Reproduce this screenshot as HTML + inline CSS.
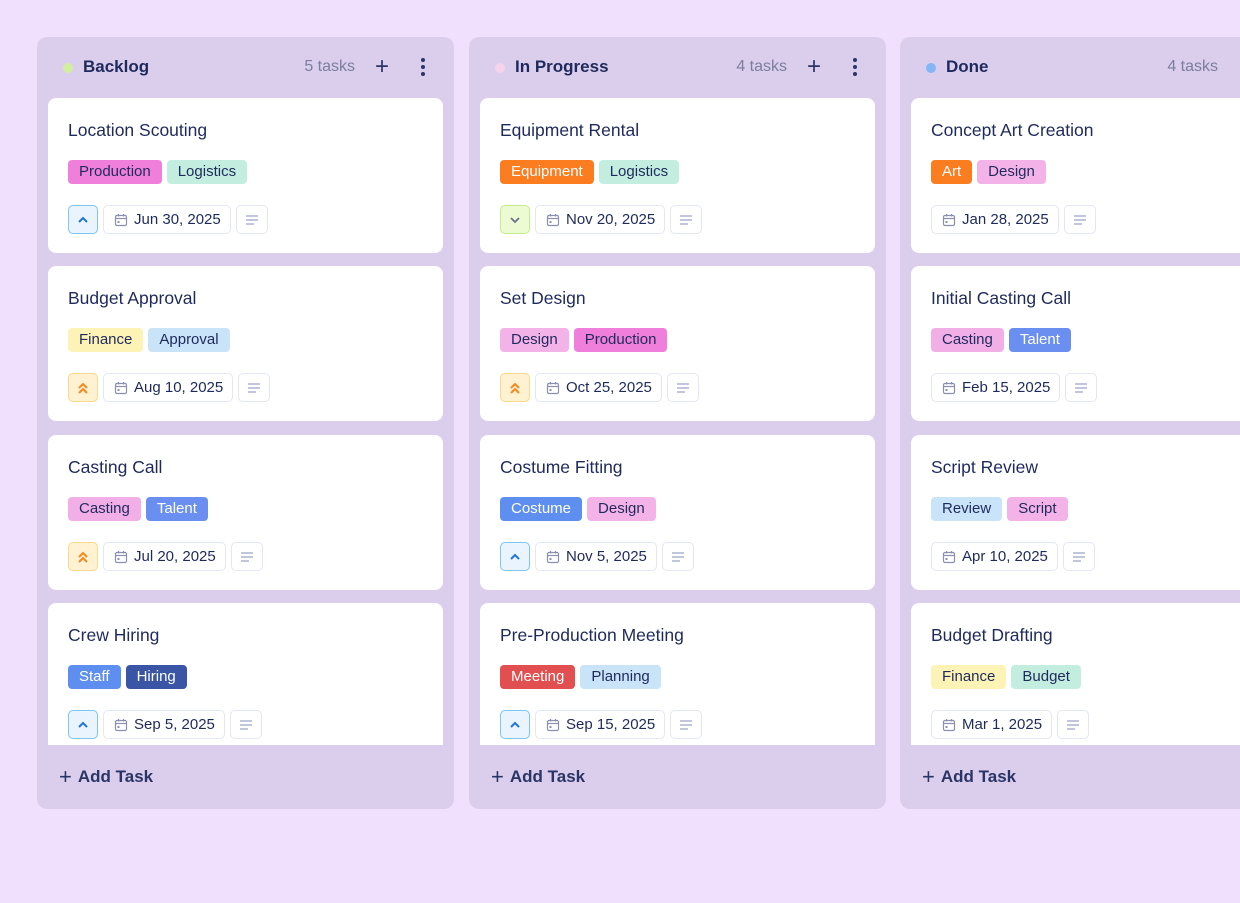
<!DOCTYPE html>
<html><head><meta charset="utf-8">
<style>
*{box-sizing:border-box;margin:0;padding:0}
html,body{width:1240px;height:903px;overflow:hidden;background:#f1e0fd;font-family:"Liberation Sans",sans-serif;color:#1f2a5c}
.col{position:absolute;top:37px;width:417px;height:772px;background:#dbcdec;border-radius:10px;overflow:hidden}
.hd{position:absolute;left:0;top:0;width:100%;height:61px}
.dot{position:absolute;left:26px;top:26px;width:10px;height:10px;border-radius:50%}
.ttl{position:absolute;left:46px;top:20px;font-size:17px;font-weight:bold;color:#1f2a5c}
.cnt{position:absolute;right:99px;top:21px;font-size:16px;color:#7a7f9e}
.plus{position:absolute;left:338px;top:18px;font-size:24px;line-height:24px;color:#2a3566}
.menu{position:absolute;left:384px;top:21px;width:4px}
.menu i{display:block;width:4px;height:4px;border-radius:50%;background:#2a3566;margin-bottom:3px}
.list{position:absolute;left:11px;top:61px;width:395px;height:647px;overflow:hidden}
.card{position:absolute;left:0;width:395px;height:155px;background:#fff;border-radius:8px}
.ct{position:absolute;left:20px;top:22px;font-size:17.5px;color:#1f2a5c}
.tags{position:absolute;left:20px;top:62px;display:flex;gap:5px}
.tag{height:24px;line-height:24px;padding:0 11px;border-radius:4px;font-size:15px}
.row{position:absolute;left:20px;top:107px;display:flex;gap:5px}
.pr{width:30px;height:29px;border-radius:5px;border:1px solid;display:flex;align-items:center;justify-content:center}
.dt{height:29px;border:1px solid #e3e6f3;border-radius:5px;padding:0 9px 0 10px;display:flex;align-items:center;gap:6px;font-size:15px;color:#1f2a5c}
.nt{width:32px;height:29px;border:1px solid #e3e6f3;border-radius:5px;display:flex;align-items:center;justify-content:center}
.ft{position:absolute;left:22px;top:727px;font-size:17px;color:#2a3566;font-weight:bold}
.ft span{font-weight:normal;font-size:22px;margin-right:6px;vertical-align:-2px}
</style></head><body>

<svg width="0" height="0" style="position:absolute">
<defs>
<symbol id="cal" viewBox="0 0 14 14"><rect x="1.5" y="2.5" width="11" height="10" rx="1.5" fill="none" stroke="#8a8fb0" stroke-width="1.2"/><line x1="1.5" y1="5.5" x2="12.5" y2="5.5" stroke="#8a8fb0" stroke-width="1.2"/><line x1="4.5" y1="1" x2="4.5" y2="3.5" stroke="#8a8fb0" stroke-width="1.2"/><line x1="9.5" y1="1" x2="9.5" y2="3.5" stroke="#8a8fb0" stroke-width="1.2"/><rect x="3.5" y="8" width="2" height="2" fill="#8a8fb0"/></symbol>
<symbol id="lines" viewBox="0 0 14 10"><line x1="1" y1="1" x2="13" y2="1" stroke="#9aa0c4" stroke-width="1.2"/><line x1="1" y1="5" x2="13" y2="5" stroke="#9aa0c4" stroke-width="1.2"/><line x1="1" y1="9" x2="9" y2="9" stroke="#9aa0c4" stroke-width="1.2"/></symbol>
</defs></svg>

<!-- Column 1 -->
<div class="col" style="left:37px">
 <div class="hd"><div class="dot" style="background:#d3ee9c"></div><div class="ttl">Backlog</div><div class="cnt">5 tasks</div><div class="plus">+</div><div class="menu"><i></i><i></i><i></i></div></div>
 <div class="list">
  <div class="card" style="top:0">
   <div class="ct">Location Scouting</div>
   <div class="tags"><div class="tag" style="background:#ef7fdb">Production</div><div class="tag" style="background:#c3eedf">Logistics</div></div>
   <div class="row"><div class="pr" style="background:#eaf4ff;border-color:#7ec4f4"><svg width="12" height="8"><polyline points="2,6 6,2 10,6" fill="none" stroke="#1f74d4" stroke-width="2"/></svg></div>
   <div class="dt"><svg width="14" height="14"><use href="#cal"/></svg>Jun 30, 2025</div><div class="nt"><svg width="14" height="10"><use href="#lines"/></svg></div></div>
  </div>
  <div class="card" style="top:168px">
   <div class="ct">Budget Approval</div>
   <div class="tags"><div class="tag" style="background:#fdf3b6">Finance</div><div class="tag" style="background:#c9e3f8">Approval</div></div>
   <div class="row"><div class="pr" style="background:#fff2d2;border-color:#fbd98c"><svg width="12" height="12"><polyline points="2,6 6,2 10,6" fill="none" stroke="#f5891e" stroke-width="2"/><polyline points="2,11 6,7 10,11" fill="none" stroke="#f5891e" stroke-width="2"/></svg></div>
   <div class="dt"><svg width="14" height="14"><use href="#cal"/></svg>Aug 10, 2025</div><div class="nt"><svg width="14" height="10"><use href="#lines"/></svg></div></div>
  </div>
  <div class="card" style="top:337px">
   <div class="ct">Casting Call</div>
   <div class="tags"><div class="tag" style="background:#f2aee7">Casting</div><div class="tag" style="background:#6a8ff0;color:#fff">Talent</div></div>
   <div class="row"><div class="pr" style="background:#fff2d2;border-color:#fbd98c"><svg width="12" height="12"><polyline points="2,6 6,2 10,6" fill="none" stroke="#f5891e" stroke-width="2"/><polyline points="2,11 6,7 10,11" fill="none" stroke="#f5891e" stroke-width="2"/></svg></div>
   <div class="dt"><svg width="14" height="14"><use href="#cal"/></svg>Jul 20, 2025</div><div class="nt"><svg width="14" height="10"><use href="#lines"/></svg></div></div>
  </div>
  <div class="card" style="top:505px">
   <div class="ct">Crew Hiring</div>
   <div class="tags"><div class="tag" style="background:#5e8ff0;color:#fff">Staff</div><div class="tag" style="background:#3a55a5;color:#fff">Hiring</div></div>
   <div class="row"><div class="pr" style="background:#eaf4ff;border-color:#7ec4f4"><svg width="12" height="8"><polyline points="2,6 6,2 10,6" fill="none" stroke="#1f74d4" stroke-width="2"/></svg></div>
   <div class="dt"><svg width="14" height="14"><use href="#cal"/></svg>Sep 5, 2025</div><div class="nt"><svg width="14" height="10"><use href="#lines"/></svg></div></div>
  </div>
 </div>
 <div class="ft"><span>+</span>Add Task</div>
</div>

<!-- Column 2 -->
<div class="col" style="left:469px">
 <div class="hd"><div class="dot" style="background:#f6d2ec"></div><div class="ttl">In Progress</div><div class="cnt">4 tasks</div><div class="plus">+</div><div class="menu"><i></i><i></i><i></i></div></div>
 <div class="list">
  <div class="card" style="top:0">
   <div class="ct">Equipment Rental</div>
   <div class="tags"><div class="tag" style="background:#fc7d1f;color:#fff">Equipment</div><div class="tag" style="background:#c3eedf">Logistics</div></div>
   <div class="row"><div class="pr" style="background:#ecfbd2;border-color:#c4ec8c"><svg width="12" height="8"><polyline points="2,2 6,6 10,2" fill="none" stroke="#6b7090" stroke-width="1.8"/></svg></div>
   <div class="dt"><svg width="14" height="14"><use href="#cal"/></svg>Nov 20, 2025</div><div class="nt"><svg width="14" height="10"><use href="#lines"/></svg></div></div>
  </div>
  <div class="card" style="top:168px">
   <div class="ct">Set Design</div>
   <div class="tags"><div class="tag" style="background:#f4b3e8">Design</div><div class="tag" style="background:#ef7fdb">Production</div></div>
   <div class="row"><div class="pr" style="background:#fff2d2;border-color:#fbd98c"><svg width="12" height="12"><polyline points="2,6 6,2 10,6" fill="none" stroke="#f5891e" stroke-width="2"/><polyline points="2,11 6,7 10,11" fill="none" stroke="#f5891e" stroke-width="2"/></svg></div>
   <div class="dt"><svg width="14" height="14"><use href="#cal"/></svg>Oct 25, 2025</div><div class="nt"><svg width="14" height="10"><use href="#lines"/></svg></div></div>
  </div>
  <div class="card" style="top:337px">
   <div class="ct">Costume Fitting</div>
   <div class="tags"><div class="tag" style="background:#5e8ff0;color:#fff">Costume</div><div class="tag" style="background:#f4b3e8">Design</div></div>
   <div class="row"><div class="pr" style="background:#eaf4ff;border-color:#7ec4f4"><svg width="12" height="8"><polyline points="2,6 6,2 10,6" fill="none" stroke="#1f74d4" stroke-width="2"/></svg></div>
   <div class="dt"><svg width="14" height="14"><use href="#cal"/></svg>Nov 5, 2025</div><div class="nt"><svg width="14" height="10"><use href="#lines"/></svg></div></div>
  </div>
  <div class="card" style="top:505px">
   <div class="ct">Pre-Production Meeting</div>
   <div class="tags"><div class="tag" style="background:#e24f50;color:#fff">Meeting</div><div class="tag" style="background:#c9e3f8">Planning</div></div>
   <div class="row"><div class="pr" style="background:#eaf4ff;border-color:#7ec4f4"><svg width="12" height="8"><polyline points="2,6 6,2 10,6" fill="none" stroke="#1f74d4" stroke-width="2"/></svg></div>
   <div class="dt"><svg width="14" height="14"><use href="#cal"/></svg>Sep 15, 2025</div><div class="nt"><svg width="14" height="10"><use href="#lines"/></svg></div></div>
  </div>
 </div>
 <div class="ft"><span>+</span>Add Task</div>
</div>

<!-- Column 3 -->
<div class="col" style="left:900px">
 <div class="hd"><div class="dot" style="background:#86b5f6"></div><div class="ttl">Done</div><div class="cnt">4 tasks</div></div>
 <div class="list">
  <div class="card" style="top:0">
   <div class="ct">Concept Art Creation</div>
   <div class="tags"><div class="tag" style="background:#fc7d1f;color:#fff">Art</div><div class="tag" style="background:#f4b3e8">Design</div></div>
   <div class="row"><div class="dt"><svg width="14" height="14"><use href="#cal"/></svg>Jan 28, 2025</div><div class="nt"><svg width="14" height="10"><use href="#lines"/></svg></div></div>
  </div>
  <div class="card" style="top:168px">
   <div class="ct">Initial Casting Call</div>
   <div class="tags"><div class="tag" style="background:#f2aee7">Casting</div><div class="tag" style="background:#6a8ff0;color:#fff">Talent</div></div>
   <div class="row"><div class="dt"><svg width="14" height="14"><use href="#cal"/></svg>Feb 15, 2025</div><div class="nt"><svg width="14" height="10"><use href="#lines"/></svg></div></div>
  </div>
  <div class="card" style="top:337px">
   <div class="ct">Script Review</div>
   <div class="tags"><div class="tag" style="background:#c9e3f8">Review</div><div class="tag" style="background:#f4b3e8">Script</div></div>
   <div class="row"><div class="dt"><svg width="14" height="14"><use href="#cal"/></svg>Apr 10, 2025</div><div class="nt"><svg width="14" height="10"><use href="#lines"/></svg></div></div>
  </div>
  <div class="card" style="top:505px">
   <div class="ct">Budget Drafting</div>
   <div class="tags"><div class="tag" style="background:#fdf3b6">Finance</div><div class="tag" style="background:#c3eedf">Budget</div></div>
   <div class="row"><div class="dt"><svg width="14" height="14"><use href="#cal"/></svg>Mar 1, 2025</div><div class="nt"><svg width="14" height="10"><use href="#lines"/></svg></div></div>
  </div>
 </div>
 <div class="ft"><span>+</span>Add Task</div>
</div>
</body></html>
